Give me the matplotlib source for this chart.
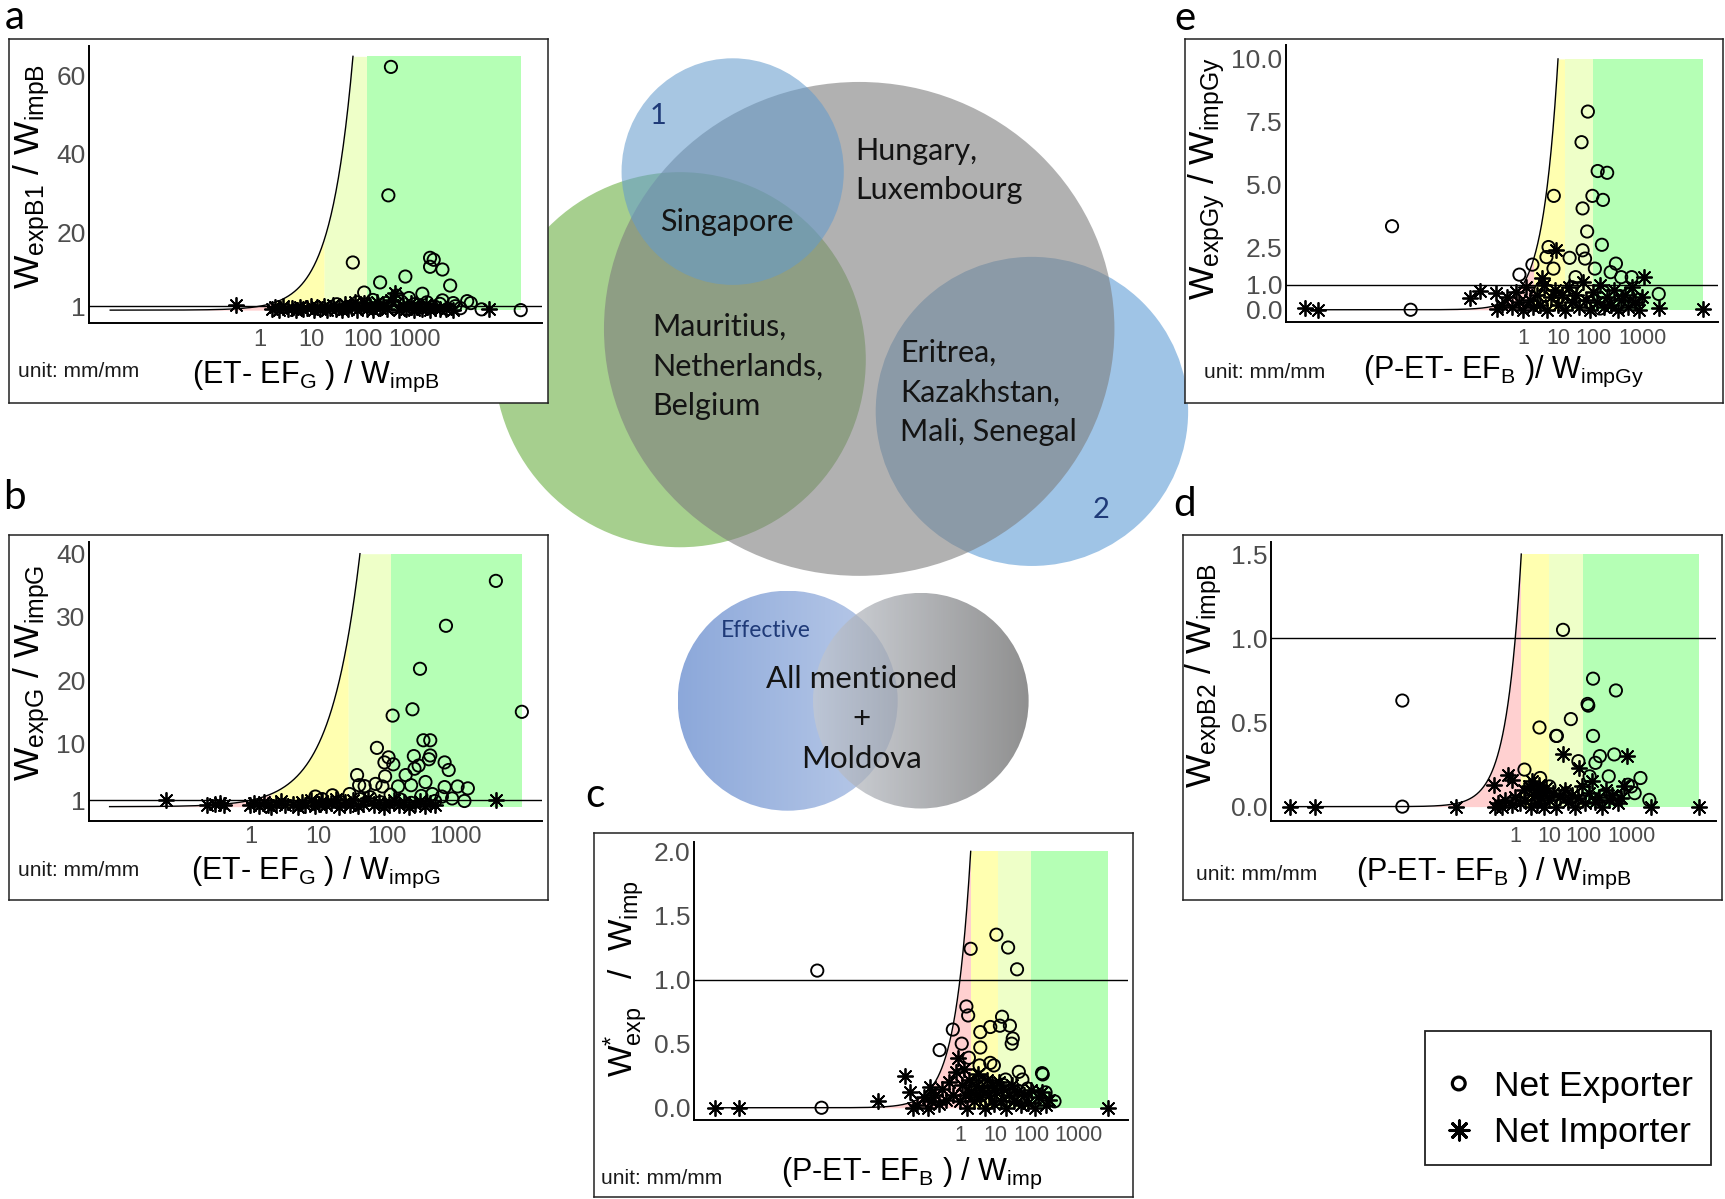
import numpy as np
import matplotlib
matplotlib.use("Agg")
import matplotlib.pyplot as plt
from matplotlib.patches import Ellipse, Rectangle, Circle
import matplotlib.transforms as mtransforms

plt.rcParams['font.family'] = ['Liberation Sans', 'DejaVu Sans']
plt.rcParams['mathtext.fontset'] = 'custom'
plt.rcParams['mathtext.rm'] = 'Liberation Sans'
plt.rcParams['mathtext.it'] = 'Liberation Sans:italic'
plt.rcParams['mathtext.bf'] = 'Liberation Sans:bold'

# ------------------------------------------------------------------ data
x_tick_values = [1, 10, 100, 1000]
x_tick_labels = ['1', '10', '100', '1000']

# panel a
a_exp_logx = [2.55, 2.50, 1.81, 2.34, 2.83, 3.31, 3.38, 3.31, 3.55, 3.70, 3.16, 3.55, 4.03, 4.10, 4.31, 5.07, 2.03, 2.66, 2.90, 3.76,
              1.50, 1.70, 1.90, 2.10, 2.20, 2.30, 2.45, 2.60, 2.75, 2.85, 3.00, 3.10, 3.25, 3.40, 3.50, 3.65, 3.80, 3.90]
a_exp_y = [62.3, 29.4, 12.2, 7.1, 8.6, 13.4, 12.9, 11.1, 10.4, 6.3, 4.2, 2.5, 2.3, 1.8, 0.2, 0.0, 4.5, 3.7, 3.1, 1.8,
           1.5, 0.8, 2.0, 1.0, 2.6, 0.5, 1.8, 0.9, 2.2, 0.4, 1.5, 0.6, 2.0, 0.9, 1.6, 0.3, 1.0, 0.5]
a_imp_logx = [-0.45, 0.24, 0.30, 0.38, 0.45, 0.55, 0.62, 0.70, 0.78, 0.85, 0.92, 1.00, 1.05, 1.12, 1.18, 1.25, 1.30, 1.36, 1.42, 1.48,
              1.55, 1.60, 1.66, 1.72, 1.78, 1.85, 1.90, 1.96, 2.02, 2.08, 2.15, 2.20, 2.27, 2.33, 2.40, 2.47, 2.55, 2.62, 2.70, 2.78,
              2.85, 2.93, 3.00, 3.08, 3.15, 3.23, 3.30, 3.40, 3.50, 3.62, 3.75, 4.45]
a_imp_y = [1.2, 0.2, 0.8, 0.1, 1.0, 0.3, 0.6, 0.0, 0.9, 0.2, 0.5, 1.1, 0.0, 0.7, 0.3, 1.0, 0.1, 0.6, 1.3, 0.2,
           0.8, 0.0, 1.5, 0.4, 1.0, 2.2, 0.1, 0.7, 1.8, 0.3, 1.1, 0.0, 2.0, 0.5, 1.4, 0.2, 2.6, 4.4, 0.1, 1.2,
           0.4, 1.9, 0.0, 0.9, 0.3, 1.5, 0.1, 0.6, 0.2, 0.4, 0.1, 0.2]
a_yticks = [1, 20, 40, 60]
a_band_edges = [2, 18, 120, 117000]

# panel b
b_exp_logx = [3.59, 2.86, 2.48, 2.37, 2.08, 3.97, 2.53, 2.63, 1.85, 2.02, 1.96, 2.09, 2.39, 2.61, 2.63, 2.84, 2.90, 2.27, 2.40, 2.46,
              1.56, 1.97, 2.56, 1.59, 1.67, 1.83, 1.93, 2.16, 2.35, 2.84, 3.03, 3.18, 2.66, 2.95, 3.13,
              0.95, 1.05, 1.20, 1.30, 1.45, 1.60, 1.75, 1.90, 2.05, 2.20, 2.35, 2.50, 2.70, 2.80]
b_exp_y = [35.7, 28.6, 21.8, 15.4, 14.4, 15.0, 10.5, 10.5, 9.3, 7.8, 7.0, 6.7, 8.0, 7.5, 8.1, 7.0, 5.8, 5.0, 6.0, 6.5,
           5.0, 4.8, 3.9, 3.4, 3.25, 3.6, 3.2, 3.2, 3.4, 3.1, 3.2, 2.9, 2.0, 1.3, 0.9,
           1.6, 1.2, 1.8, 0.8, 2.0, 1.2, 1.5, 0.7, 1.9, 1.1, 0.6, 1.7, 0.9, 1.6]
b_imp_logx = [-1.23, -0.63, -0.52, -0.39, -0.45, 0.00, 0.05, 0.12, 0.20, 0.25, 0.30, 0.38, 0.45, 0.50, 0.62, 0.70, 0.75, 0.80, 0.88, 0.95,
              1.00, 1.05, 1.10, 1.18, 1.25, 1.30, 1.38, 1.45, 1.50, 1.58, 1.65, 1.72, 1.80, 1.88, 1.95, 2.02, 2.10, 2.18, 2.25, 2.32,
              2.40, 2.48, 2.55, 2.62, 2.70, 3.59]
b_imp_y = [1.0, 0.2, 0.5, 0.2, 0.6, 0.2, 0.6, 0.1, 0.8, 0.3, 0.0, 0.5, 0.9, 0.2, 0.4, 0.0, 0.7, 0.3, 1.0, 0.1,
           0.5, 0.9, 0.2, 0.6, 1.2, 0.0, 0.7, 0.3, 1.0, 0.1, 0.5, 1.3, 0.2, 0.8, 0.0, 0.5, 1.1, 0.2, 0.7, 0.0,
           0.4, 0.9, 0.1, 0.6, 0.2, 1.0]
b_yticks = [1, 10, 20, 30, 40]
b_band_edges = [2, 27, 112, 9500]

# panel c
c_exp_logx = [-4.00, -3.88, -0.57, -0.20, 0.05, 0.18, 0.23, 0.30, 0.25, 0.57, 0.57, 0.85, 1.02, 1.12, 1.18, 1.35, 1.40, 1.48, 1.45, 1.60,
              0.55, 0.85, 0.95, 1.65, 1.75, 2.30, 2.32, 2.65, 1.28, 0.40, 0.70, 1.00, 1.20, 1.55, 1.90, 2.10, 2.40]
c_exp_y = [1.07, 0.00, 0.45, 0.61, 0.50, 0.79, 0.72, 1.24, 0.39, 0.59, 0.47, 0.63, 1.35, 0.64, 0.71, 1.25, 0.64, 0.54, 0.50, 1.08,
           0.33, 0.35, 0.33, 0.28, 0.22, 0.27, 0.26, 0.05, 0.22, 0.15, 0.20, 0.10, 0.18, 0.12, 0.15, 0.08, 0.12]
c_imp_logx = [-6.88, -6.18, -2.30, -1.53, -1.40, -1.32, -0.85, -0.80, -0.05,
              -1.20, -1.00, -0.90, -0.70, -0.60, -0.50, -0.40, -0.30, -0.20, -0.10, 0.00, 0.05, 0.10, 0.15, 0.20, 0.25, 0.30, 0.38,
              0.45, 0.50, 0.55, 0.62, 0.70, 0.75, 0.82, 0.90, 0.95, 1.02, 1.10, 1.15, 1.22, 1.30, 1.38, 1.45, 1.52, 1.60, 1.70, 1.80,
              1.90, 2.00, 2.10, 2.20, 2.30, 2.40, 2.50, 4.15]
c_imp_y = [0.00, 0.00, 0.05, 0.25, 0.12, 0.00, 0.16, 0.05, 0.39,
           0.02, 0.08, 0.00, 0.10, 0.03, 0.15, 0.06, 0.20, 0.10, 0.28, 0.05, 0.18, 0.30, 0.10, 0.00, 0.22, 0.12, 0.05,
           0.17, 0.26, 0.08, 0.14, 0.00, 0.22, 0.10, 0.18, 0.03, 0.12, 0.20, 0.05, 0.15, 0.00, 0.10, 0.18, 0.05, 0.12, 0.02, 0.10,
           0.04, 0.14, 0.00, 0.08, 0.12, 0.02, 0.06, 0.00]
c_yticks = [0.0, 0.5, 1.0, 1.5, 2.0]
c_band_edges = [2, 12, 100, 14000]

# panel d
d_exp_logx = [-3.31, -3.31, 1.40, 2.28, 2.95, 2.12, 2.14, 1.63, 0.71, 1.20, 1.22, 2.28, 2.48, 2.90, 1.85, 2.35, 0.27, 2.74, 3.67, 3.30,
              3.40, 3.93, 0.73, 2.18, 0.50, 1.00, 1.50, 2.00, 2.60, 3.00, 3.50]
d_exp_y = [0.63, 0.00, 1.05, 0.76, 0.69, 0.61, 0.60, 0.52, 0.47, 0.42, 0.42, 0.42, 0.30, 0.31, 0.27, 0.26, 0.22, 0.18, 0.17, 0.13,
           0.12, 0.04, 0.17, 0.18, 0.10, 0.12, 0.08, 0.10, 0.07, 0.05, 0.08]
d_imp_logx = [-6.59, -5.87, -1.74, -0.63, -0.60, -0.20, -0.09, 1.40, 3.29, 1.87, 3.98, 5.40,
              -0.50, -0.40, -0.30, -0.10, 0.00, 0.15, 0.25, 0.30, 0.40, 0.45, 0.50, 0.55, 0.60, 0.65, 0.70, 0.75, 0.80, 0.85,
              0.90, 1.00, 1.10, 1.20, 1.30, 1.45, 1.55, 1.65, 1.75, 1.85, 1.95, 2.05, 2.15, 2.25, 2.35, 2.45, 2.55, 2.65, 2.75,
              2.85, 3.00, 3.10, 3.20]
d_imp_y = [0.00, 0.00, 0.00, 0.13, 0.00, 0.19, 0.16, 0.31, 0.30, 0.23, 0.00, 0.00,
           0.02, 0.00, 0.04, 0.01, 0.06, 0.02, 0.10, 0.04, 0.12, 0.00, 0.15, 0.07, 0.10, 0.02, 0.13, 0.05, 0.09, 0.00,
           0.11, 0.04, 0.08, 0.00, 0.06, 0.10, 0.03, 0.07, 0.00, 0.05, 0.12, 0.02, 0.08, 0.15, 0.03, 0.06, 0.00, 0.10, 0.04,
           0.07, 0.02, 0.05, 0.12]
d_yticks = [0.0, 0.5, 1.0, 1.5]
d_band_edges = [1.5, 10, 100, 250000]

# panel e
e_exp_logx = [-3.73, -3.20, 1.85, 1.67, 2.13, 2.40, 0.88, 1.98, 2.28, 1.70, 1.83, 2.25, 0.73, 0.67, 1.70, 1.33, 1.77, 0.27, -0.10, 0.87,
              2.65, 2.05, 2.50, 3.10, 2.80, 1.50, 3.87, 0.50, 1.00, 1.40, 1.90, 2.30, 2.70, 3.00, 3.30, 2.20]
e_exp_y = [3.33, 0.00, 7.90, 6.68, 5.53, 5.46, 4.54, 4.54, 4.38, 4.04, 3.12, 2.59, 2.50, 2.10, 2.37, 2.07, 2.04, 1.80, 1.40, 1.64,
           1.84, 1.64, 1.50, 1.30, 1.30, 1.30, 0.63, 0.80, 0.50, 0.90, 0.30, 0.70, 0.20, 0.60, 0.40, 0.05]
e_imp_logx = [-6.20, -5.83, -1.50, -1.23, -0.77, -0.73, 0.93, 0.55, 3.45, 3.87, 5.12,
              -0.60, -0.45, -0.30, -0.20, -0.10, 0.00, 0.10, 0.20, 0.30, 0.40, 0.50, 0.60, 0.70, 0.80, 0.90, 1.00, 1.10, 1.20,
              1.30, 1.40, 1.50, 1.60, 1.70, 1.80, 1.90, 2.00, 2.10, 2.20, 2.30, 2.40, 2.50, 2.60, 2.70, 2.80, 2.90, 3.00, 3.10,
              3.20, 3.30, 3.40]
e_imp_y = [0.07, 0.00, 0.46, 0.75, 0.66, 0.03, 2.39, 1.25, 1.30, 0.07, 0.03,
           0.2, 0.5, 0.1, 0.7, 0.3, 0.0, 0.9, 0.4, 0.1, 0.6, 0.2, 1.0, 0.0, 0.5, 0.8, 0.2, 0.6, 0.0,
           0.9, 0.3, 0.6, 0.1, 1.1, 0.4, 0.0, 0.7, 0.3, 1.0, 0.1, 0.5, 0.2, 0.8, 0.0, 0.4, 0.6, 0.1, 0.9,
           0.3, 0.0, 0.5]
e_yticks = [0.0, 1.0, 2.5, 5.0, 7.5, 10.0]
e_band_edges = [2, 16, 100, 132000]

# venn texts
venn_label_1 = '1'
venn_label_2 = '2'
venn_hungary = ['Hungary,', 'Luxembourg']
venn_singapore = 'Singapore'
venn_mauritius = ['Mauritius,', 'Netherlands,', 'Belgium']
venn_eritrea = ['Eritrea,', 'Kazakhstan,', 'Mali, Senegal']
venn_effective = 'Effective'
venn_all = ['All mentioned', '+', 'Moldova']
legend_labels = ['Net Exporter', 'Net Importer']

# ------------------------------------------------------------------ layout helpers
W, H = 1568.0, 1090.0
fig = plt.figure(figsize=(17.25, 11.99), dpi=100)
fig.patch.set_facecolor('white')


def rect(x0, y0, x1, y1):
    return [x0 / W, 1 - y1 / H, (x1 - x0) / W, (y1 - y0) / H]


def fxy(x, y):
    return (x / W, 1 - y / H)


# background axes for the Venn diagrams and legend
bg = fig.add_axes([0, 0, 1, 1], zorder=0)
bg.set_xlim(0, W)
bg.set_ylim(H, 0)
bg.axis('off')

venn_font = ['Lato', 'DejaVu Sans']
bg.add_patch(Ellipse((618, 327), 338, 341, facecolor='#a6cf8e', edgecolor='none', zorder=1))
bg.add_patch(Ellipse((938, 374), 284, 281, facecolor='#9fc4e6', edgecolor='none', zorder=1))
bg.add_patch(Ellipse((781, 299), 464, 449, facecolor=(126/255, 126/255, 126/255, 0.6), edgecolor='none', zorder=2))
bg.add_patch(Ellipse((666, 156), 202, 206, facecolor=(100/255, 155/255, 204/255, 0.57), edgecolor='none', zorder=3))

tc = '#141414'
navy = '#1f3a78'
vfs = 22
bg.text(598, 105, venn_label_1, fontsize=21, color=navy, ha='center', va='center', family=venn_font, zorder=5)
bg.text(1001, 464, venn_label_2, fontsize=21, color=navy, ha='center', va='center', family=venn_font, zorder=5)
for i, t in enumerate(venn_hungary):
    bg.text(777, 137 + 36 * i, t, fontsize=vfs, color=tc, ha='left', va='center', family=venn_font, zorder=5)
bg.text(661, 202, venn_singapore, fontsize=vfs, color=tc, ha='center', va='center', family=venn_font, zorder=5)
for i, t in enumerate(venn_mauritius):
    bg.text(593, 297 + 36 * i, t, fontsize=vfs, color=tc, ha='left', va='center', family=venn_font, zorder=5)
for i, t in enumerate(venn_eritrea):
    bg.text(818, 321 + 36 * i, t, fontsize=vfs, color=tc, ha='left', va='center', family=venn_font, zorder=5)


def grad_circle(cx, cy, r, c0, c1, alpha, z):
    n = 256
    t = np.linspace(0, 1, n)
    img = np.zeros((2, n, 4))
    for k in range(3):
        img[:, :, k] = (c0[k] + (c1[k] - c0[k]) * t) / 255.0
    img[:, :, 3] = alpha
    circ = Circle((cx, cy), r, transform=bg.transData, facecolor='none', edgecolor='none')
    bg.add_patch(circ)
    im = bg.imshow(img, extent=(cx - r, cx + r, cy + r, cy - r), aspect='auto', zorder=z, interpolation='bilinear')
    im.set_clip_path(circ)


grad_circle(716, 637, 100, (140, 168, 218), (188, 204, 233), 1.0, 1)
grad_circle(837, 637, 98, (196, 201, 210), (100, 100, 100), 0.72, 2)
bg.set_xlim(0, W)
bg.set_ylim(H, 0)
bg.text(696, 573, venn_effective, fontsize=16.5, color=navy, ha='center', va='center', family=venn_font, zorder=5)
for i, t in enumerate(venn_all):
    bg.text(783, 617 + 36.5 * i, t, fontsize=22.5, color=tc, ha='center', va='center', family=venn_font, zorder=5)

# legend
bg.add_patch(Rectangle((1295, 937), 260, 122, facecolor='white', edgecolor='#222222', lw=1.3, zorder=5))
bg.scatter([1326], [985], s=85, facecolors='none', edgecolors='black', linewidths=2.3, zorder=6)
bg.scatter([1326], [1027], s=190, marker=(8, 2, 0), color='black', linewidths=2.2, zorder=6)
bg.text(1358, 996.5, legend_labels[0], fontsize=25.5, ha='left', va='baseline', zorder=6)
bg.text(1358, 1038.5, legend_labels[1], fontsize=25.5, ha='left', va='baseline', zorder=6)

# ------------------------------------------------------------------ scatter panels
band_colors = ['#ffd0d0', '#ffffb0', '#eeffc8', '#b5ffb5']


def panel(box, axr, xlog, ylim, yticks, yticklabels, top, band_edges, cstart,
          exp_lx, exp_y, imp_lx, imp_y, ylabel, ypos, ylab_size, xlabel, xpos, upos,
          letter, lpos, xtick_size, shift1000):
    bax = fig.add_axes(rect(*box), zorder=1)
    bax.set_xticks([])
    bax.set_yticks([])
    bax.set_facecolor('white')
    for s in bax.spines.values():
        s.set_linewidth(1.1)
        s.set_color('#222222')

    ax = fig.add_axes(rect(*axr), zorder=2)
    ax.set_facecolor('none')
    ax.set_xscale('log')
    ax.set_xlim(10 ** xlog[0], 10 ** xlog[1])
    ax.set_ylim(*ylim)

    edges = [10 ** cstart] + list(band_edges)
    for i in range(4):
        lo, hi = edges[i], edges[i + 1]
        ytop = min(top, hi)
        yy = np.linspace(0, ytop, 400)
        x1 = np.maximum(yy, lo)
        ax.fill_betweenx(yy, x1, hi, color=band_colors[i], lw=0, zorder=1)

    cx = np.logspace(cstart, np.log10(top), 400)
    ax.plot(cx, cx, color='black', lw=1.0, zorder=3)
    ax.axhline(1, color='black', lw=1.0, zorder=3)

    ax.scatter(10 ** np.array(exp_lx), exp_y, s=78, facecolors='none', edgecolors='black',
               linewidths=1.35, zorder=4)
    ax.scatter(10 ** np.array(imp_lx), imp_y, s=120, marker=(8, 2, 0), color='black',
               linewidths=1.3, zorder=4)

    for side in ['top', 'right']:
        ax.spines[side].set_visible(False)
    for side in ['left', 'bottom']:
        ax.spines[side].set_linewidth(1.4)
        ax.spines[side].set_color('black')

    ax.set_xticks(x_tick_values)
    ax.set_xticklabels(x_tick_labels)
    ax.xaxis.set_minor_locator(matplotlib.ticker.NullLocator())
    ax.set_yticks(yticks)
    ax.set_yticklabels(yticklabels)
    ax.tick_params(axis='x', length=0, pad=4, labelsize=xtick_size, labelcolor='#4d4d4d')
    ax.tick_params(axis='y', length=0, pad=2.5, labelsize=19, labelcolor='#4d4d4d')
    if shift1000:
        off = mtransforms.ScaledTranslation(shift1000 / 72.0, 0, fig.dpi_scale_trans)
        for lab in ax.get_xticklabels():
            if lab.get_text() == '1000':
                lab.set_transform(lab.get_transform() + off)

    fig.text(*fxy(*ypos), ylabel, rotation=90, fontsize=ylab_size, ha='center', va='center')
    fig.text(*fxy(*xpos), xlabel, fontsize=22, ha='center', va='center')
    fig.text(*fxy(*upos), 'unit: mm/mm', fontsize=15, ha='left', va='center', color='#1a1a1a')
    fig.text(*fxy(*lpos), letter, fontsize=29, ha='center', va='center', family=venn_font)
    return ax


panel((8, 35, 498, 366), (81, 42, 493, 294), (-3.31, 5.49), (-3.4, 67.6),
      a_yticks, [str(v) for v in a_yticks], 65, a_band_edges, -2.9,
      a_exp_logx, a_exp_y, a_imp_logx, a_imp_y,
      r'W$_{\mathrm{expB1}}$ / W$_{\mathrm{impB}}$', (29, 160), 25.5,
      r'(ET- EF$_{\mathrm{G}}$ ) / W$_{\mathrm{impB}}$', (287, 342), (16, 338),
      'a', (13, 16), 17, 0)

panel((8, 486, 498, 818), (81, 493, 493, 746), (-2.36, 4.27), (-2.2, 41.8),
      b_yticks, [str(v) for v in b_yticks], 40, b_band_edges, -2.06,
      b_exp_logx, b_exp_y, b_imp_logx, b_imp_y,
      r'W$_{\mathrm{expG}}$ / W$_{\mathrm{impG}}$', (29, 612), 25.5,
      r'(ET- EF$_{\mathrm{G}}$ ) / W$_{\mathrm{impG}}$', (287, 793), (16, 791),
      'b', (13, 452), 17, 0)

panel((540, 757, 1030, 1088), (631, 765, 1025, 1018), (-7.45, 4.7), (-0.094, 2.077),
      c_yticks, ['%.1f' % v for v in c_yticks], 2.0, c_band_edges, -6.88,
      c_exp_logx, c_exp_y, c_imp_logx, c_imp_y,
      r'W$^{*}_{\mathrm{exp}}$   /  W$_{\mathrm{imp}}$', (569, 890), 24,
      r'(P-ET- EF$_{\mathrm{B}}$ ) / W$_{\mathrm{imp}}$', (829, 1067), (546, 1071),
      'c', (541, 723), 15.5, 8)

panel((1075, 486, 1565, 818), (1155, 493, 1560, 746), (-7.17, 5.89), (-0.083, 1.57),
      d_yticks, ['%.1f' % v for v in d_yticks], 1.5, d_band_edges, -6.59,
      d_exp_logx, d_exp_y, d_imp_logx, d_imp_y,
      r'W$_{\mathrm{expB2}}$ / W$_{\mathrm{impB}}$', (1094, 614), 25.5,
      r'(P-ET- EF$_{\mathrm{B}}$ ) / W$_{\mathrm{impB}}$', (1358, 794), (1087, 795),
      'd', (1077, 459), 15.5, 10)

panel((1077, 35, 1566, 366), (1169, 41, 1562, 293), (-6.75, 5.57), (-0.5, 10.55),
      e_yticks, ['%.1f' % v for v in e_yticks], 10.0, e_band_edges, -6.2,
      e_exp_logx, e_exp_y, e_imp_logx, e_imp_y,
      r'W$_{\mathrm{expGy}}$ / W$_{\mathrm{impGy}}$', (1097, 162), 25.5,
      r'(P-ET- EF$_{\mathrm{B}}$ )/ W$_{\mathrm{impGy}}$', (1367, 338), (1094, 339),
      'e', (1077, 17), 15.5, 10)

fig.savefig('out.png', dpi=100, facecolor='white')
